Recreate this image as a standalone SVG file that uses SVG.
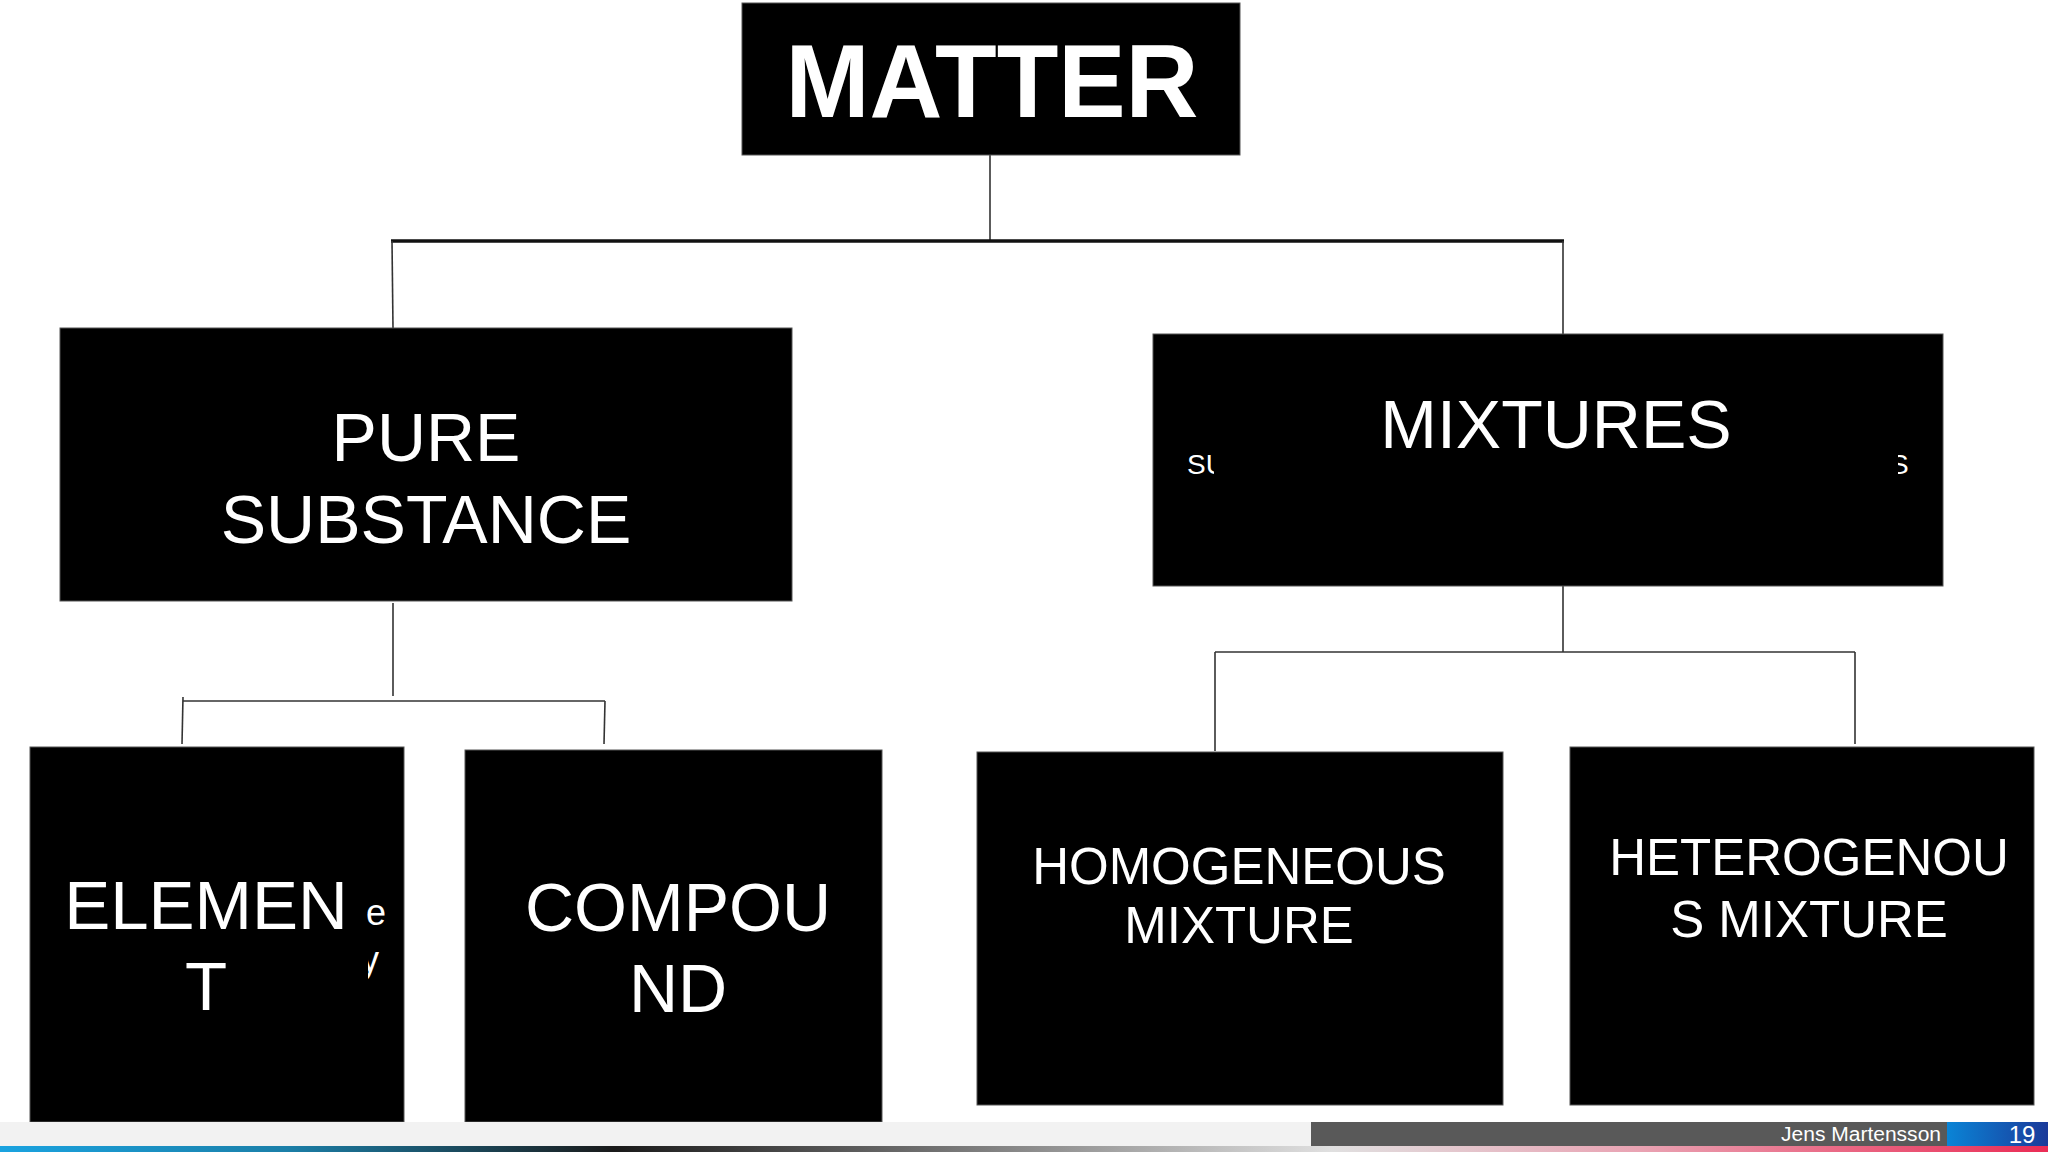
<svg xmlns="http://www.w3.org/2000/svg" width="2048" height="1152" viewBox="0 0 2048 1152">
<style>
.box{fill:#000;stroke:#555;stroke-width:1}
.t{fill:#fff;font-family:"Liberation Sans",Arial,sans-serif;text-anchor:middle}
.ln{stroke:#333;stroke-width:1.6;fill:none}
.thick{stroke:#111;stroke-width:3.5;fill:none}
</style>
<defs>
<linearGradient id="strip" x1="0" y1="0" x2="1" y2="0">
<stop offset="0" stop-color="#1aa3e0"/>
<stop offset="0.14" stop-color="#1b7fa8"/>
<stop offset="0.3" stop-color="#1a1a1a"/>
<stop offset="0.5" stop-color="#8a8a8a"/>
<stop offset="0.65" stop-color="#e0e0e0"/>
<stop offset="0.8" stop-color="#e9a3b3"/>
<stop offset="1" stop-color="#ea2c55"/>
</linearGradient>
<linearGradient id="num" x1="0" y1="0" x2="1" y2="0">
<stop offset="0" stop-color="#0a84d6"/>
<stop offset="1" stop-color="#1b3a9a"/>
</linearGradient>
<clipPath id="clipSu"><rect x="1180" y="440" width="34" height="50"/></clipPath>
<clipPath id="clipS"><rect x="1898" y="440" width="20" height="50"/></clipPath>
<clipPath id="clipY"><rect x="368" y="945" width="20" height="55"/></clipPath>
</defs>

<g id="connectors">
<line class="ln" x1="990" y1="155" x2="990" y2="241"/>
<line class="thick" x1="391" y1="241" x2="1564" y2="241"/>
<line class="ln" x1="392" y1="241" x2="393" y2="328"/>
<line class="ln" x1="1563" y1="241" x2="1563" y2="334"/>
<line class="ln" x1="393" y1="603" x2="393" y2="696"/>
<line class="ln" x1="183" y1="701" x2="605" y2="701"/>
<line class="ln" x1="183" y1="697" x2="182" y2="744"/>
<line class="ln" x1="605" y1="701" x2="604" y2="744"/>
<line class="ln" x1="1563" y1="586" x2="1563" y2="652"/>
<line class="ln" x1="1215" y1="652" x2="1855" y2="652"/>
<line class="ln" x1="1215" y1="652" x2="1215" y2="751"/>
<line class="ln" x1="1855" y1="652" x2="1855" y2="744"/>
</g>

<g id="matter">
<rect class="box" x="742" y="3" width="498" height="152"/>
<text class="t" x="992" y="117" font-size="104" font-weight="bold" textLength="413" lengthAdjust="spacingAndGlyphs">MATTER</text>
</g>

<g id="pure-substance">
<rect class="box" x="60" y="328" width="732" height="273"/>
<text class="t" x="426" y="461" font-size="68">PURE</text>
<text class="t" x="426" y="543" font-size="68">SUBSTANCE</text>
</g>

<g id="mixtures">
<rect class="box" x="1153" y="334" width="790" height="252"/>
<text class="t" x="1556" y="448" font-size="68">MIXTURES</text>
<text class="t" x="1187" y="474" font-size="28" clip-path="url(#clipSu)" style="text-anchor:start">SU</text>
<text class="t" x="1890" y="474" font-size="28" clip-path="url(#clipS)" style="text-anchor:start">S</text>
</g>

<g id="element">
<rect class="box" x="30" y="747" width="374" height="375"/>
<text class="t" x="206" y="929" font-size="69">ELEMEN</text>
<text class="t" x="206" y="1010" font-size="69">T</text>
<text class="t" x="376" y="925" font-size="36">e</text>
<text class="t" x="370" y="972" font-size="36" clip-path="url(#clipY)">y</text>
</g>

<g id="compound">
<rect class="box" x="465" y="750" width="417" height="372"/>
<text class="t" x="678" y="931" font-size="68">COMPOU</text>
<text class="t" x="678" y="1012" font-size="68">ND</text>
</g>

<g id="homogeneous">
<rect class="box" x="977" y="752" width="526" height="353"/>
<text class="t" x="1239" y="884" font-size="51">HOMOGENEOUS</text>
<text class="t" x="1239" y="943" font-size="51">MIXTURE</text>
</g>

<g id="heterogenous">
<rect class="box" x="1570" y="747" width="464" height="358"/>
<text class="t" x="1809" y="875" font-size="51">HETEROGENOU</text>
<text class="t" x="1809" y="937" font-size="51">S MIXTURE</text>
</g>

<g id="footer">
<rect x="0" y="1122" width="2048" height="24" fill="#f2f2f2"/>
<rect x="1311" y="1122" width="636" height="24" fill="#595959"/>
<rect x="1947" y="1122" width="101" height="24" fill="url(#num)"/>
<rect x="0" y="1146" width="2048" height="6" fill="url(#strip)"/>
<text x="1941" y="1141" font-size="20" fill="#fff" font-family="Liberation Sans,Arial,sans-serif" text-anchor="end" textLength="160" lengthAdjust="spacingAndGlyphs">Jens Martensson</text>
<text x="2022" y="1143" font-size="24" fill="#fff" font-family="Liberation Sans,Arial,sans-serif" text-anchor="middle">19</text>
</g>
</svg>
